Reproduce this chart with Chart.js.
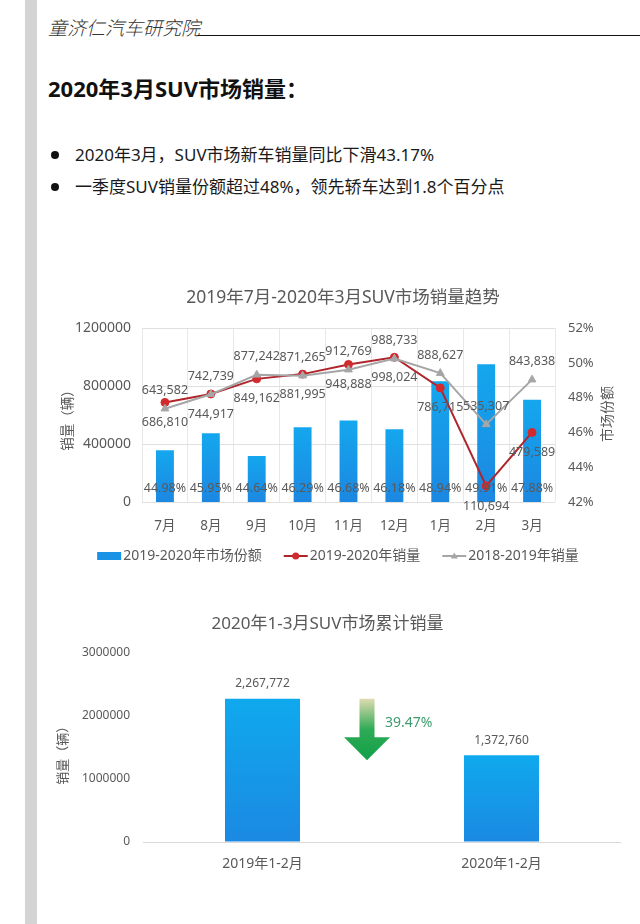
<!DOCTYPE html>
<html>
<head>
<meta charset="utf-8">
<script src="https://cdn.jsdelivr.net/npm/chart.js@4.4.0/dist/chart.umd.min.js"></script>
<style>
html,body{margin:0;padding:0;background:#fff;}
body{width:640px;height:924px;position:relative;overflow:hidden;font-family:"Noto Sans","Noto Sans CJK SC",sans-serif;}
.sidebar{position:absolute;left:25px;top:0;width:12px;height:924px;background:#d4d4d4;}
.org{position:absolute;left:48px;top:16px;font-size:19px;line-height:22px;font-style:italic;font-weight:300;color:#333;font-family:"Noto Sans CJK SC",sans-serif;white-space:nowrap;}
.rule{position:absolute;left:198px;top:35px;width:442px;height:0;border-top:1.5px solid #111;}
h1{position:absolute;left:48px;top:75px;margin:0;font-size:22px;line-height:26px;font-weight:700;color:#111;white-space:nowrap;}
.bullet{position:absolute;left:75px;font-size:17px;line-height:22px;color:#1a1a1a;white-space:nowrap;}
.bullet::before{content:"";position:absolute;left:-24px;top:7px;width:8px;height:8px;border-radius:50%;background:#111;}
canvas{position:absolute;}
</style>
</head>
<body>
<div class="sidebar"></div>
<div class="org">童济仁汽车研究院</div>
<div class="rule"></div>
<h1>2020年3月SUV市场销量：</h1>
<div class="bullet" style="top:144px;">2020年3月，SUV市场新车销量同比下滑43.17%</div>
<div class="bullet" style="top:176px;">一季度SUV销量份额超过48%，领先轿车达到1.8个百分点</div>
<canvas id="c1" width="594" height="300" style="left:46px;top:280px;"></canvas>
<canvas id="c2" width="606" height="300" style="left:34px;top:600px;"></canvas>
<script>
// ---------- data: chart 1 ----------
const chart1Title = '2019年7月-2020年3月SUV市场销量趋势';
const months = ['7月','8月','9月','10月','11月','12月','1月','2月','3月'];
const marketShare = [44.98, 45.95, 44.64, 46.29, 46.68, 46.18, 48.94, 49.91, 47.88];
const sales2019_2020 = [686810, 744917, 849162, 881995, 948888, 998024, 786715, 110694, 479589];
const sales2018_2019 = [643582, 742739, 877242, 871265, 912769, 988733, 888627, 535307, 843838];
const salesTicks = [0, 400000, 800000, 1200000];
const shareTicks = [42, 44, 46, 48, 50, 52];
const salesAxisTitle = '销量（辆）';
const shareAxisTitle = '市场份额';
const seriesNames = ['2019-2020年市场份额', '2019-2020年销量', '2018-2019年销量'];

// ---------- data: chart 2 ----------
const chart2Title = '2020年1-3月SUV市场累计销量';
const periods = ['2019年1-2月', '2020年1-2月'];
const cumulativeSales = [2267772, 1372760];
const cumulativeTicks = [0, 1000000, 2000000, 3000000];
const declineText = '39.47%';

const FONT = '"Noto Sans", "Noto Sans CJK SC", sans-serif';
Chart.defaults.font.family = FONT;
Chart.defaults.color = '#595959';

const fmtInt = v => v.toLocaleString('en-US');
const fmtPct = v => v.toFixed(2) + '%';

function barGradient(topColor, bottomColor) {
  return function (c) {
    const chart = c.chart;
    if (!chart.chartArea || c.type !== 'data') return bottomColor;
    const scale = chart.scales[c.dataset.yAxisID || 'y'];
    const top = scale.getPixelForValue(c.raw);
    const bottom = chart.chartArea.bottom;
    const g = chart.ctx.createLinearGradient(0, top, 0, bottom);
    g.addColorStop(0, topColor);
    g.addColorStop(1, bottomColor);
    return g;
  };
}

const valueLabels = {
  id: 'valueLabels',
  afterDatasetsDraw(chart) {
    const {ctx, chartArea} = chart;
    chart.data.datasets.forEach((ds, i) => {
      const cfg = ds.valueLabel;
      if (!cfg) return;
      const meta = chart.getDatasetMeta(i);
      ctx.save();
      ctx.font = cfg.size + 'px ' + FONT;
      ctx.fillStyle = '#595959';
      ctx.textAlign = 'center';
      ctx.textBaseline = 'middle';
      meta.data.forEach((el, j) => {
        const text = cfg.format(ds.data[j]);
        const y = cfg.anchor === 'base' ? chartArea.bottom + cfg.offset : el.y + cfg.offset;
        ctx.fillText(text, el.x, y);
      });
      ctx.restore();
    });
  }
};

function drawRotated(ctx, text, x, y, font) {
  ctx.save();
  ctx.translate(x, y);
  ctx.rotate(-Math.PI / 2);
  ctx.font = font;
  ctx.fillStyle = '#595959';
  ctx.textAlign = 'center';
  ctx.textBaseline = 'middle';
  ctx.fillText(text, 0, 0);
  ctx.restore();
}

const chart1Decor = {
  id: 'chart1Decor',
  afterDraw(chart) {
    const {ctx, chartArea: a} = chart;
    const midY = (a.top + a.bottom) / 2;
    drawRotated(ctx, salesAxisTitle, a.left - 74, midY + 2, '13.5px ' + FONT);
    drawRotated(ctx, shareAxisTitle, a.right + 53, midY - 1, '14px ' + FONT);
    // legend
    ctx.save();
    ctx.font = '14px ' + FONT;
    ctx.textBaseline = 'middle';
    ctx.textAlign = 'left';
    const iconW = 24, gap = 2, spacing = 22;
    const ds = chart.data.datasets;
    const widths = ds.map(d => iconW + gap + ctx.measureText(d.label).width);
    const total = widths.reduce((s, w) => s + w, 0) + spacing * (ds.length - 1);
    let x = chart.width / 2 - 5 - total / 2;
    const y = a.bottom + 54;
    ds.forEach((d, k) => {
      if (d.type === 'bar') {
        ctx.fillStyle = '#1a93e6';
        ctx.fillRect(x, y - 4, iconW, 8);
      } else {
        ctx.strokeStyle = d.borderColor;
        ctx.lineWidth = d.borderWidth;
        ctx.beginPath(); ctx.moveTo(x, y); ctx.lineTo(x + iconW, y); ctx.stroke();
        ctx.fillStyle = d.pointBackgroundColor;
        ctx.beginPath();
        const cx = x + iconW / 2;
        if (d.pointStyle === 'triangle') {
          ctx.moveTo(cx, y - 3.5); ctx.lineTo(cx + 3.5, y + 2.5); ctx.lineTo(cx - 3.5, y + 2.5); ctx.closePath();
        } else {
          ctx.arc(cx, y, 3.5, 0, Math.PI * 2);
        }
        ctx.fill();
      }
      ctx.fillStyle = '#595959';
      ctx.fillText(d.label, x + iconW + gap, y);
      x += widths[k] + spacing;
    });
    ctx.restore();
  }
};

new Chart(document.getElementById('c1'), {
  data: {
    labels: months,
    datasets: [
      {
        type: 'bar', label: seriesNames[0], data: marketShare, yAxisID: 'y1', order: 3,
        backgroundColor: barGradient('#14a7ee', '#1c87e1'),
        barPercentage: 0.39, categoryPercentage: 1,
        valueLabel: {anchor: 'base', offset: -14, size: 12.5, format: fmtPct}
      },
      {
        type: 'line', label: seriesNames[1], data: sales2019_2020, yAxisID: 'y', order: 2,
        borderColor: '#b0252b', borderWidth: 2, tension: 0,
        pointStyle: 'circle', pointRadius: 4, pointBackgroundColor: '#d32a2e', pointBorderColor: '#d32a2e', pointBorderWidth: 1,
        valueLabel: {anchor: 'point', offset: 20, size: 12.5, format: fmtInt}
      },
      {
        type: 'line', label: seriesNames[2], data: sales2018_2019, yAxisID: 'y', order: 1,
        borderColor: '#a6a6a6', borderWidth: 2, tension: 0,
        pointStyle: 'triangle', pointRadius: 4.5, pointBackgroundColor: '#a6a6a6', pointBorderColor: '#a6a6a6', pointBorderWidth: 1,
        valueLabel: {anchor: 'point', offset: -18, size: 12.5, format: fmtInt}
      }
    ]
  },
  options: {
    responsive: false,
    animation: false,
    layout: {padding: 0, autoPadding: false},
    plugins: {
      legend: {display: false},
      tooltip: {enabled: false},
      title: {display: true, text: chart1Title, color: '#595959', font: {size: 17.5, weight: 'normal'}, padding: {top: 8, bottom: 19}}
    },
    scales: {
      x: {
        grid: {color: '#e8e8e8', offset: true, drawTicks: false},
        border: {display: false},
        ticks: {font: {size: 13.5}, color: '#595959', padding: 16, maxRotation: 0, autoSkip: false},
        afterFit: s => { s.height = 78; }
      },
      y: {
        position: 'left', min: 0, max: 1200000,
        afterBuildTicks: s => { s.ticks = salesTicks.map(v => ({value: v})); },
        ticks: {font: {size: 14}, color: '#595959', padding: 11, callback: v => String(v)},
        grid: {color: '#e0e0e0', drawTicks: false},
        border: {display: false},
        afterFit: s => { s.width = 96; }
      },
      y1: {
        position: 'right', min: 42, max: 52,
        afterBuildTicks: s => { s.ticks = shareTicks.map(v => ({value: v})); },
        ticks: {font: {size: 13}, color: '#595959', padding: 13, callback: v => v + '%'},
        grid: {display: false, drawTicks: false},
        border: {display: false},
        afterFit: s => { s.width = 85; }
      }
    }
  },
  plugins: [valueLabels, chart1Decor]
});

const chart2Decor = {
  id: 'chart2Decor',
  afterDraw(chart) {
    const {ctx, chartArea: a, scales} = chart;
    drawRotated(ctx, salesAxisTitle, a.left - 80, (a.top + a.bottom) / 2 + 5, '13px ' + FONT);
    // decline arrow between the two bars
    const xs = scales.x, ys = scales.y;
    const cx = (xs.getPixelForValue(0) + xs.getPixelForValue(1)) / 2 - 15;
    const yTop = ys.getPixelForValue(cumulativeSales[0]);
    const yTip = ys.getPixelForValue(cumulativeSales[1]) + 5;
    const headH = 23, shaftW = 15, headW = 46;
    ctx.save();
    const g = ctx.createLinearGradient(0, yTop, 0, yTip);
    g.addColorStop(0, '#e0dbb0');
    g.addColorStop(0.5, '#2faa55');
    g.addColorStop(1, '#12a04a');
    ctx.fillStyle = g;
    ctx.beginPath();
    ctx.moveTo(cx - shaftW / 2, yTop);
    ctx.lineTo(cx + shaftW / 2, yTop);
    ctx.lineTo(cx + shaftW / 2, yTip - headH);
    ctx.lineTo(cx + headW / 2, yTip - headH);
    ctx.lineTo(cx, yTip);
    ctx.lineTo(cx - headW / 2, yTip - headH);
    ctx.lineTo(cx - shaftW / 2, yTip - headH);
    ctx.closePath();
    ctx.fill();
    ctx.font = '14px ' + FONT;
    ctx.fillStyle = '#3e9d6e';
    ctx.textAlign = 'left';
    ctx.textBaseline = 'middle';
    ctx.fillText(declineText, cx + 18, (yTop + yTip) / 2 - 6);
    ctx.restore();
  }
};

new Chart(document.getElementById('c2'), {
  type: 'bar',
  data: {
    labels: periods,
    datasets: [{
      label: chart2Title, data: cumulativeSales, yAxisID: 'y',
      backgroundColor: barGradient('#0fa9ee', '#1b89e2'),
      barPercentage: 0.314, categoryPercentage: 1,
      valueLabel: {anchor: 'point', offset: -15, size: 12, format: fmtInt}
    }]
  },
  options: {
    responsive: false,
    animation: false,
    layout: {padding: {top: 0, left: 0, bottom: 0, right: 19}, autoPadding: false},
    plugins: {
      legend: {display: false},
      tooltip: {enabled: false},
      title: {display: true, text: chart2Title, color: '#595959', font: {size: 17, weight: 'normal'}, padding: {top: 14, bottom: 18}}
    },
    scales: {
      x: {
        grid: {display: false, drawTicks: false},
        border: {display: false},
        ticks: {font: {size: 14}, color: '#595959', padding: 14, maxRotation: 0},
        afterFit: s => { s.height = 58; }
      },
      y: {
        min: 0, max: 3000000,
        afterBuildTicks: s => { s.ticks = cumulativeTicks.map(v => ({value: v})); },
        ticks: {font: {size: 12}, color: '#595959', padding: 13, callback: v => String(v)},
        grid: {color: c => (c.tick && c.tick.value === 0) ? '#d9d9d9' : 'rgba(0,0,0,0)', drawTicks: false},
        border: {display: false},
        afterFit: s => { s.width = 109; }
      }
    }
  },
  plugins: [valueLabels, chart2Decor]
});
</script>
</body>
</html>
